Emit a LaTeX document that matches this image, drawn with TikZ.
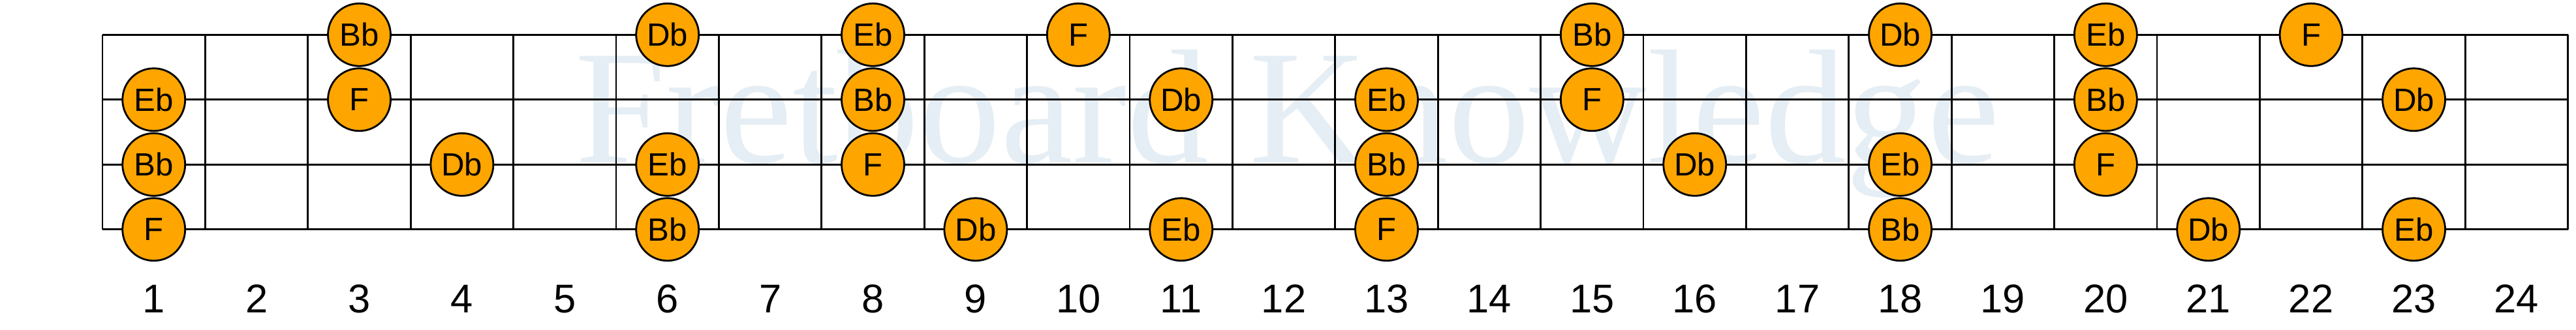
\documentclass[tikz,border=0pt]{standalone}
\usepackage{fontspec}
\setmainfont{Liberation Sans}
\newfontfamily\markfont{Liberation Serif}
\usepackage{xcolor}
\usepackage{tikz}

\definecolor{noteorange}{RGB}{255,165,0}
\definecolor{markblue}{RGB}{229,238,244}

\begin{document}
\begin{tikzpicture}[
        gridline/.style={line width=0.8pt, black},
        note/.style={circle, draw, line width=0.8pt, fill=noteorange, minimum size=0.96cm, inner sep=0pt, font=\fontsize{14}{14}\selectfont},
        fretnum/.style={anchor=base, font=\fontsize{17.5}{17.5}\selectfont},
        watermark/.style={anchor=base, text=markblue, font=\markfont\fontsize{71}{71}\selectfont}
    ]
        \useasboundingbox (0,0) rectangle (39.47,-5.06);

        % watermark behind the board
        \node[watermark] (mark) at (19.73,-2.50) {Fretboard Knowledge};

        % strings
        \foreach \s in {1,...,4} {
            \coordinate (s\s-a) at (1.57, {-0.533-(\s-1)*0.995});
            \coordinate (s\s-b) at (39.35, {-0.533-(\s-1)*0.995});
            \draw[gridline] (s\s-a) -- (s\s-b);
        }

        % frets
        \foreach \f in {0,...,24} {
            \coordinate (f\f-a) at ({1.57+\f*1.574}, -0.533);
            \coordinate (f\f-b) at ({1.57+\f*1.574}, -3.518);
            \draw[gridline] (f\f-a) -- (f\f-b);
        }

        % fret numbers
        \foreach \f in {1,...,24} {
            \node[fretnum] (num\f) at ({1.57+(\f-0.5)*1.574}, -4.80) {\f};
        }

        % notes (fret/string/name)
        \foreach \f/\s/\n in {1/2/Eb, 1/3/Bb, 1/4/F, 3/1/Bb, 3/2/F, 4/3/Db,
                              6/1/Db, 6/3/Eb, 6/4/Bb, 8/1/Eb, 8/2/Bb, 8/3/F,
                              9/4/Db, 10/1/F, 11/2/Db, 11/4/Eb, 13/2/Eb, 13/3/Bb,
                              13/4/F, 15/1/Bb, 15/2/F, 16/3/Db, 18/1/Db, 18/3/Eb,
                              18/4/Bb, 20/1/Eb, 20/2/Bb, 20/3/F, 21/4/Db, 22/1/F,
                              23/2/Db, 23/4/Eb} {
            \node[note] (n\f-\s) at ({1.57+(\f-0.5)*1.574}, {-0.533-(\s-1)*0.995}) {\n};
        }

    \end{tikzpicture}
\end{document}
